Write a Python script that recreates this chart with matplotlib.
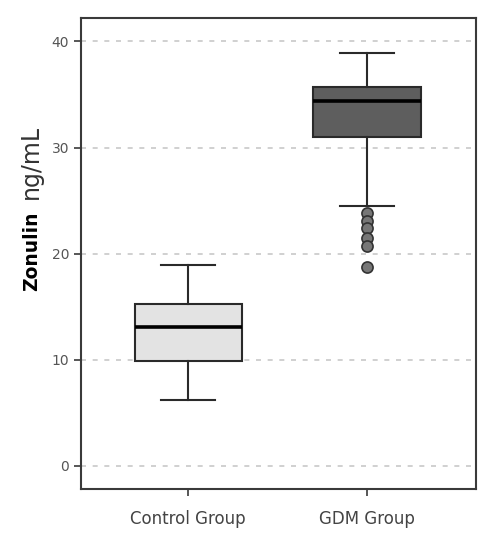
import matplotlib
matplotlib.use('Agg')
import matplotlib.pyplot as plt

# box statistics (ng/mL)
groups = ['Control Group', 'GDM Group']
whislo = [6.2, 24.5]
q1 = [9.9, 31.0]
med = [13.1, 34.4]
q3 = [15.2, 35.7]
whishi = [18.9, 38.9]
fliers = [[], [23.8, 23.1, 22.4, 21.5, 20.7, 18.7]]
box_colors = ['#e3e3e3', '#5e5e5e']
yticks = [0, 10, 20, 30, 40]

stats = []
for i in range(len(groups)):
    stats.append({'label': groups[i], 'whislo': whislo[i], 'q1': q1[i],
                  'med': med[i], 'q3': q3[i], 'whishi': whishi[i],
                  'fliers': fliers[i]})

fig = plt.figure(figsize=(4.93, 5.5), dpi=100)
ax = fig.add_axes([0.164, 0.111, 0.802, 0.856])

ax.set_axisbelow(True)
ax.yaxis.grid(True, linestyle=(0, (3, 4)), color='#c8c8c8', linewidth=1.2)

bp = ax.bxp(stats, positions=[1, 2], widths=0.6, patch_artist=True,
            boxprops=dict(edgecolor='#2a2a2a', linewidth=1.5),
            medianprops=dict(color='black', linewidth=2.6),
            whiskerprops=dict(color='#2a2a2a', linewidth=1.5),
            capprops=dict(color='#2a2a2a', linewidth=1.5),
            capwidths=0.3,
            flierprops=dict(marker='o', markerfacecolor='#777777',
                            markeredgecolor='#333333', markersize=8,
                            markeredgewidth=1.2))
for patch, c in zip(bp['boxes'], box_colors):
    patch.set_facecolor(c)

ax.set_xlim(0.4, 2.61)
ax.set_ylim(-2.2, 42.2)
ax.set_yticks(yticks)
ax.set_xticks([1, 2])
ax.set_xticklabels(groups)

for s in ax.spines.values():
    s.set_color('#3a3a3a')
    s.set_linewidth(1.5)
ax.tick_params(axis='y', labelsize=10, labelcolor='#555555', color='#3a3a3a',
               length=5, width=1.2)
ax.tick_params(axis='x', labelsize=12, labelcolor='#444444', color='#3a3a3a',
               length=5, width=1.2, pad=10)

fig.text(0.065, 1 - 251 / 550, 'Zonulin', rotation=90, fontsize=13.5,
         fontweight='bold', color='black', ha='center', va='center')
fig.text(0.062, 1 - 162 / 550, 'ng/mL', rotation=90, fontsize=17,
         color='#333333', ha='center', va='center')

fig.savefig('out.png')
